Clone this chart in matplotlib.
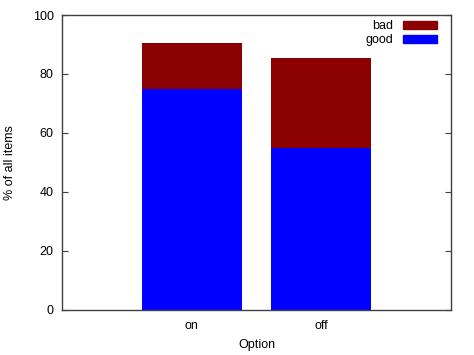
import matplotlib
matplotlib.use('Agg')
import matplotlib.pyplot as plt
from matplotlib.patches import Patch

plt.rcParams['font.family'] = ['Liberation Sans', 'DejaVu Sans']
plt.rcParams['font.size'] = 9

# data
options = ['on', 'off']
good = [75.0, 55.0]
bad = [15.4, 30.3]

fig = plt.figure(figsize=(4.74, 3.55), dpi=100)
ax = fig.add_axes([62 / 474, 1 - 310 / 355, (451 - 62) / 474, (310 - 15) / 355])

xs = list(range(len(options)))
ax.bar(xs, good, width=0.77, color='#0000ff', label='good')
ax.bar(xs, bad, width=0.77, bottom=good, color='#8b0000', label='bad')

ax.set_xlim(-1, 2)
ax.set_ylim(0, 100)
ax.set_xticks(xs)
ax.set_xticklabels(options)
ax.set_yticks(range(0, 101, 20))
ax.tick_params(axis='y', direction='in', length=4, right=True, color='#404040', pad=6)
ax.tick_params(axis='x', length=0, pad=7)
for s in ax.spines.values():
    s.set_color('#404040')
    s.set_linewidth(1.0)

ax.set_xlabel('Option', labelpad=5)
ax.set_ylabel('% of all items', labelpad=12)

handles = [Patch(color='#8b0000'), Patch(color='#0000ff')]
ax.legend(handles, ['bad', 'good'], loc='upper right', frameon=False,
          markerfirst=False, handlelength=2.7, handleheight=0.6,
          labelspacing=0.2, borderpad=0, borderaxespad=0,
          bbox_to_anchor=(1 - 14 / 389, 1 - 5 / 295), handletextpad=0.8)

fig.savefig('out.png', dpi=100)
